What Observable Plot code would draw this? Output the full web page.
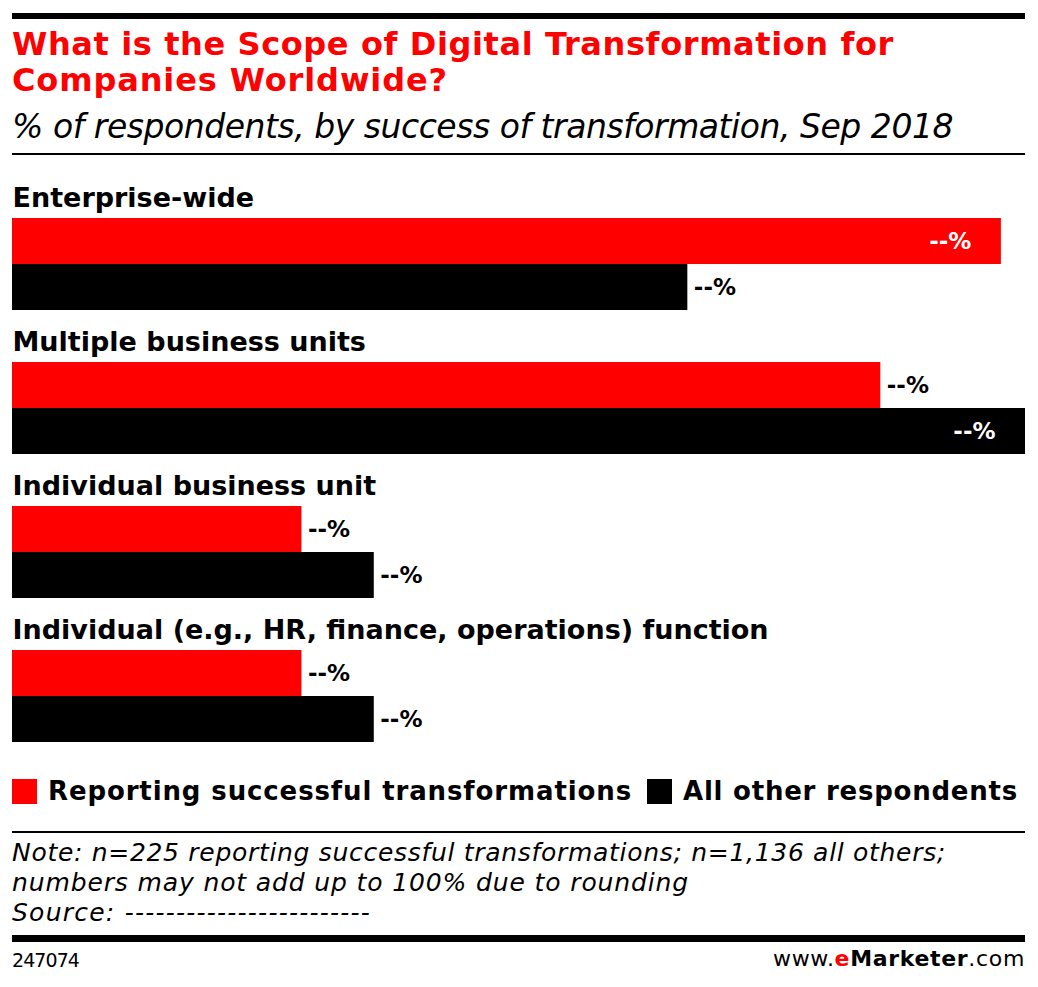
<!DOCTYPE html>
<html>
<head>
<meta charset="utf-8">
<script src="https://cdn.jsdelivr.net/npm/d3@7"></script>
<script src="https://cdn.jsdelivr.net/npm/@observablehq/plot@0.6"></script>
<style>
  html, body { margin: 0; padding: 0; background: #fff; }
  body { width: 1038px; height: 987px; position: relative; overflow: hidden; font-family: "DejaVu Sans", sans-serif; color: #000; }
  .abs { position: absolute; left: 12px; white-space: nowrap; }
  .line { width: max-content; white-space: nowrap; }
  .rule { position: absolute; left: 12px; width: 1013px; background: #000; }
  #title { top: 26px; font-size: 32px; line-height: 36px; font-weight: 700; color: #ff0000; }
  #subtitle { top: 107px; font-size: 33px; line-height: 40px; font-style: italic; font-weight: 400; }
  #chart { position: absolute; left: 0; top: 160px; }
  #legend { top: 773px; height: 36px; font-size: 26px; line-height: 36px; font-weight: 700; display: flex; align-items: center; }
  #legend .sw { display: inline-block; width: 25px; height: 25px; margin-right: 11px; flex: none; }
  #legend .item { display: flex; align-items: center; margin-right: 15px; }
  #note { top: 838px; font-size: 25px; line-height: 30px; font-style: italic; }
  #footid { top: 945px; font-size: 19px; line-height: 30px; width: max-content; }
  #brand { position: absolute; right: 13px; top: 944px; font-size: 22px; line-height: 30px; white-space: nowrap; width: max-content; }
</style>
</head>
<body>
<div class="rule" style="top:13px;height:6px"></div>
<div id="title" class="abs"></div>
<div id="subtitle" class="abs"></div>
<div class="rule" style="top:153px;height:2px"></div>
<div id="chart"></div>
<div id="legend" class="abs"></div>
<div class="rule" style="top:831px;height:2px"></div>
<div id="note" class="abs"></div>
<div class="rule" style="top:935px;height:7px"></div>
<div id="footid" class="abs"></div>
<div id="brand">www.<b style="color:#ff0000">e</b><b>Marketer</b>.com</div>
<script>
// ---- data ----
const titleLines = ["What is the Scope of Digital Transformation for", "Companies Worldwide?"];
const subtitle = "% of respondents, by success of transformation, Sep 2018";
const categories = [
  "Enterprise-wide",
  "Multiple business units",
  "Individual business unit",
  "Individual (e.g., HR, finance, operations) function"
];
const seriesNames = ["Reporting successful transformations", "All other respondents"];
const successful = [41, 36, 12, 12];
const others = [28, 42, 15, 15];
const valueLabel = "--%";
const seriesColors = ["#ff0000", "#000000"];
const noteLines = [
  "Note: n=225 reporting successful transformations; n=1,136 all others;",
  "numbers may not add up to 100% due to rounding",
  "Source: ------------------------"
];
const chartId = "247074";

// ---- layout helpers (text widths taken from the reference layout) ----
function fitSpacing(el, target) {
  el.style.letterSpacing = "0px";
  const w = el.getBoundingClientRect().width;
  const n = el.textContent.length;
  el.style.letterSpacing = ((target - w) / n).toFixed(3) + "px";
}
function addLines(container, lines, targets) {
  lines.forEach((t, i) => {
    const d = document.createElement("div");
    d.className = "line";
    d.textContent = t;
    container.appendChild(d);
    if (targets[i]) fitSpacing(d, targets[i]);
  });
}

// ---- header / footer text ----
addLines(document.getElementById("title"), titleLines, [882, 436]);
addLines(document.getElementById("subtitle"), [subtitle], [941]);
addLines(document.getElementById("note"), noteLines, [934, 677, 359]);
const footid = document.getElementById("footid");
footid.textContent = chartId;
fitSpacing(footid, 67);

const legend = document.getElementById("legend");
const legendTargets = [584, 335];
seriesNames.forEach((s, i) => {
  const item = document.createElement("span");
  item.className = "item";
  const sw = document.createElement("span");
  sw.className = "sw";
  sw.style.background = seriesColors[i];
  const tx = document.createElement("span");
  tx.textContent = s;
  tx.style.whiteSpace = "nowrap";
  item.appendChild(sw);
  item.appendChild(tx);
  legend.appendChild(item);
  fitSpacing(tx, legendTargets[i]);
});
fitSpacing(document.getElementById("brand"), 252);

// ---- chart ----
const rows = categories.flatMap((c, i) => [
  {category: c, series: seriesNames[0], value: successful[i]},
  {category: c, series: seriesNames[1], value: others[i]}
]);
const xMax = d3.max(rows, d => d.value);
const inside = d => d.value / xMax > 0.9;
const labelFont = {fontSize: 23, fontWeight: 700, fontFamily: "DejaVu Sans"};

const chart = Plot.plot({
  width: 1038,
  height: 600,
  marginTop: 56,
  marginBottom: 16,
  marginLeft: 12,
  marginRight: 13,
  style: {fontFamily: "DejaVu Sans", background: "transparent", overflow: "visible"},
  x: {domain: [0, xMax], axis: null},
  y: {domain: seriesNames, axis: null, padding: 0},
  fy: {domain: categories, axis: null, paddingInner: 0.354, paddingOuter: 0},
  color: {domain: seriesNames, range: seriesColors},
  marks: [
    Plot.barX(rows, {fy: "category", y: "series", x: "value", fill: "series"}),
    Plot.text(rows.filter(inside), {
      fy: "category", y: "series", x: "value", text: () => valueLabel,
      textAnchor: "end", dx: -30, fill: "white", ...labelFont
    }),
    Plot.text(rows.filter(d => !inside(d)), {
      fy: "category", y: "series", x: "value", text: () => valueLabel,
      textAnchor: "start", dx: 6, fill: "black", ...labelFont
    }),
    Plot.text(categories, {
      fy: d => d, text: d => d, frameAnchor: "top-left", textAnchor: "start",
      lineAnchor: "bottom", dy: -11, fill: "black",
      fontSize: 27, fontWeight: 700, fontFamily: "DejaVu Sans"
    })
  ]
});
document.getElementById("chart").appendChild(chart);
</script>
</body>
</html>
